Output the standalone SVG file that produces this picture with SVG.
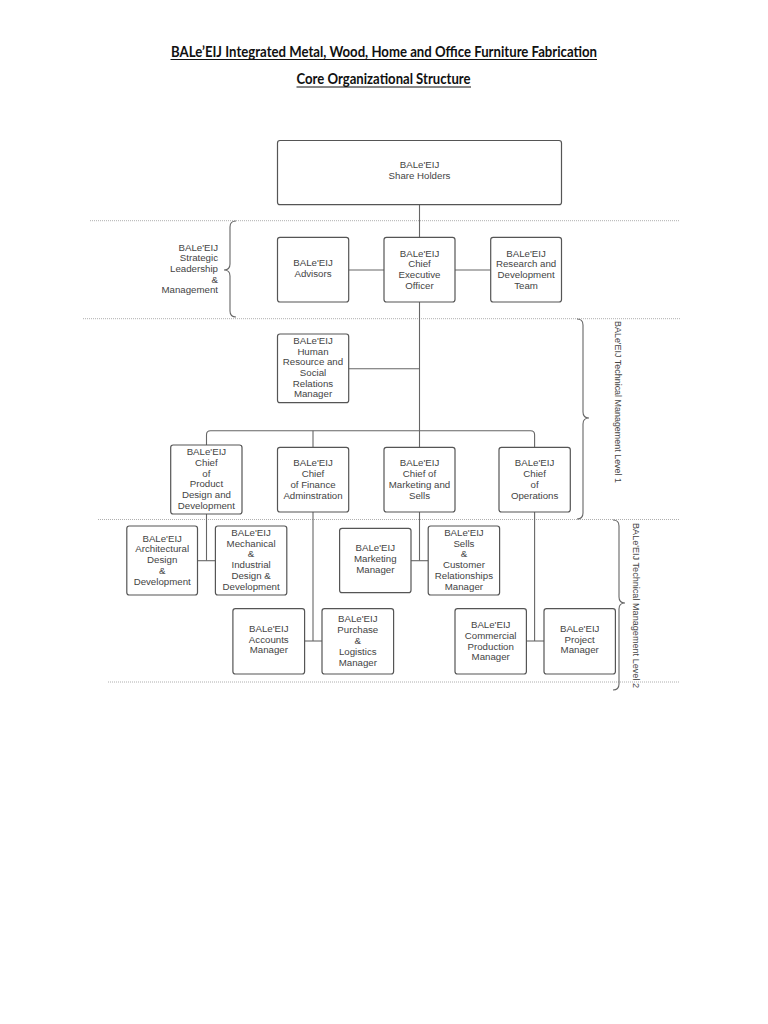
<svg xmlns="http://www.w3.org/2000/svg" width="768" height="1024" viewBox="0 0 768 1024">
<style>
.title{font-family:Lato,"Liberation Sans",Arial,sans-serif;font-weight:bold;font-size:14.5px;fill:#111}
.box{fill:#fff;stroke:#555;stroke-width:1.2}
.t{font-family:"Liberation Sans",Arial,sans-serif;font-size:9.7px;fill:#444;text-anchor:middle}
.lbl{font-family:"Liberation Sans",Arial,sans-serif;font-size:9.7px;fill:#444}
.dot{stroke:#9a9a9a;stroke-width:0.8;stroke-dasharray:1 1;fill:none}
.ln{stroke:#666;stroke-width:1.1;fill:none}
.br{stroke:#666;stroke-width:1.1;fill:none}
</style>
<rect width="768" height="1024" fill="#fff"/>
<g id="title">
<text class="title" x="384" y="56.5" text-anchor="middle" textLength="426" lengthAdjust="spacingAndGlyphs">BALe’EIJ Integrated Metal, Wood, Home and Office Furniture Fabrication</text>
<line x1="170.5" y1="59.5" x2="597" y2="59.5" stroke="#111" stroke-width="1"/>
<text class="title" x="383.5" y="83.5" text-anchor="middle" textLength="174" lengthAdjust="spacingAndGlyphs">Core Organizational Structure</text>
<line x1="296.5" y1="87" x2="471" y2="87" stroke="#111" stroke-width="1"/>
</g>
<g id="guides">
<line class="dot" x1="90" y1="220.7" x2="679" y2="220.7"/>
<line class="dot" x1="83" y1="318.7" x2="680" y2="318.7"/>
<line class="dot" x1="98" y1="519.5" x2="680" y2="519.5"/>
<line class="dot" x1="108" y1="682" x2="680" y2="682"/>
<path class="br" d="M236,221 Q230,221 230,227 L230,264 Q230,270 224,270 Q230,270 230,276 L230,311 Q230,317 236,317"/>
<path class="br" d="M577,319 Q583,319 583,325 L583,412 Q583,418 589,418 Q583,418 583,424 L583,513 Q583,519 577,519"/>
<path class="br" d="M613,520 Q619,520 619,526 L619,597 Q619,603 625,603 Q619,603 619,609 L619,684 Q619,690 613,690"/>
<text class="lbl" text-anchor="end"><tspan x="218" y="250.7">BALe'EIJ</tspan><tspan x="218" y="261.4">Strategic</tspan><tspan x="218" y="272">Leadership</tspan><tspan x="218" y="282.7">&amp;</tspan><tspan x="218" y="293.4">Management</tspan></text>
<text class="lbl" transform="translate(614.5,321) rotate(90)" textLength="162" lengthAdjust="spacingAndGlyphs">BALe'EIJ Technical Management Level 1</text>
<text class="lbl" transform="translate(633,523) rotate(90)" textLength="165" lengthAdjust="spacingAndGlyphs">BALe'EIJ Technical Management Level 2</text>
</g>
<g id="connectors">
<line class="ln" x1="419.5" y1="204.7" x2="419.5" y2="237.3"/>
<line class="ln" x1="348.7" y1="270" x2="384" y2="270"/>
<line class="ln" x1="455" y1="270" x2="490.7" y2="270"/>
<line class="ln" x1="419.5" y1="302" x2="419.5" y2="447.3"/>
<line class="ln" x1="348.7" y1="368.7" x2="419.5" y2="368.7"/>
<path class="ln" d="M206.5,445 L206.5,434.7 Q206.5,430.7 210.5,430.7 L530.6,430.7 Q534.6,430.7 534.6,434.7 L534.6,447.3"/>
<line class="ln" x1="313" y1="430.7" x2="313" y2="447.3"/>
<line class="ln" x1="206.5" y1="514" x2="206.5" y2="560.7"/>
<line class="ln" x1="197.5" y1="560.7" x2="215.4" y2="560.7"/>
<line class="ln" x1="419.5" y1="512" x2="419.5" y2="560.7"/>
<line class="ln" x1="411" y1="560.7" x2="428.2" y2="560.7"/>
<line class="ln" x1="313" y1="512" x2="313" y2="641"/>
<line class="ln" x1="304.6" y1="641" x2="322" y2="641"/>
<line class="ln" x1="534.6" y1="512" x2="534.6" y2="641"/>
<line class="ln" x1="526.4" y1="641" x2="544" y2="641"/>
</g>
<g id="shareholders">
<rect class="box" x="277.5" y="140.5" width="284" height="64.2" rx="2.5"/>
<text class="t"><tspan x="419.5" y="168.4">BALe'EIJ</tspan><tspan x="419.5" y="179.4">Share Holders</tspan></text>
</g>
<g id="advisors">
<rect class="box" x="277.5" y="237.3" width="71.2" height="64.7" rx="2.5"/>
<text class="t"><tspan x="313" y="266">BALe'EIJ</tspan><tspan x="313" y="276.7">Advisors</tspan></text>
</g>
<g id="ceo">
<rect class="box" x="384" y="237.3" width="71" height="64.7" rx="2.5"/>
<text class="t"><tspan x="419.5" y="256.7">BALe'EIJ</tspan><tspan x="419.5" y="267.4">Chief</tspan><tspan x="419.5" y="278.1">Executive</tspan><tspan x="419.5" y="288.7">Officer</tspan></text>
</g>
<g id="rnd">
<rect class="box" x="490.7" y="237.3" width="70.8" height="64.7" rx="2.5"/>
<text class="t"><tspan x="526.1" y="256.7">BALe'EIJ</tspan><tspan x="526.1" y="267.4">Research and</tspan><tspan x="526.1" y="278.1">Development</tspan><tspan x="526.1" y="288.7">Team</tspan></text>
</g>
<g id="hr">
<rect class="box" x="277.5" y="334" width="71.2" height="68.7" rx="2.5"/>
<text class="t"><tspan x="313" y="344">BALe'EIJ</tspan><tspan x="313" y="354.7">Human</tspan><tspan x="313" y="365.4">Resource and</tspan><tspan x="313" y="376">Social</tspan><tspan x="313" y="386.7">Relations</tspan><tspan x="313" y="397.4">Manager</tspan></text>
</g>
<g id="chief-product">
<rect class="box" x="170.7" y="445" width="71.3" height="69" rx="2.5"/>
<text class="t"><tspan x="206.4" y="455">BALe'EIJ</tspan><tspan x="206.4" y="465.7">Chief</tspan><tspan x="206.4" y="476.7">of</tspan><tspan x="206.4" y="487.4">Product</tspan><tspan x="206.4" y="498">Design and</tspan><tspan x="206.4" y="508.7">Development</tspan></text>
</g>
<g id="chief-finance">
<rect class="box" x="277.5" y="447.3" width="71.2" height="64.7" rx="2.5"/>
<text class="t"><tspan x="313" y="466.4">BALe'EIJ</tspan><tspan x="313" y="477.1">Chief</tspan><tspan x="313" y="488.1">of Finance</tspan><tspan x="313" y="498.7">Adminstration</tspan></text>
</g>
<g id="chief-marketing">
<rect class="box" x="384" y="447.3" width="71" height="64.7" rx="2.5"/>
<text class="t"><tspan x="419.5" y="466.4">BALe'EIJ</tspan><tspan x="419.5" y="477.1">Chief of</tspan><tspan x="419.5" y="488.1">Marketing and</tspan><tspan x="419.5" y="498.7">Sells</tspan></text>
</g>
<g id="chief-operations">
<rect class="box" x="499" y="447.3" width="71.3" height="64.7" rx="2.5"/>
<text class="t"><tspan x="534.6" y="466.4">BALe'EIJ</tspan><tspan x="534.6" y="477.1">Chief</tspan><tspan x="534.6" y="488.1">of</tspan><tspan x="534.6" y="498.7">Operations</tspan></text>
</g>
<g id="architectural">
<rect class="box" x="126.8" y="526" width="70.7" height="69" rx="2.5"/>
<text class="t"><tspan x="162.2" y="541.7">BALe'EIJ</tspan><tspan x="162.2" y="552.4">Architectural</tspan><tspan x="162.2" y="563.4">Design</tspan><tspan x="162.2" y="574.4">&amp;</tspan><tspan x="162.2" y="585.1">Development</tspan></text>
</g>
<g id="mechanical">
<rect class="box" x="215.4" y="526" width="71.4" height="69" rx="2.5"/>
<text class="t"><tspan x="251.1" y="536">BALe'EIJ</tspan><tspan x="251.1" y="546.7">Mechanical</tspan><tspan x="251.1" y="557.4">&amp;</tspan><tspan x="251.1" y="568">Industrial</tspan><tspan x="251.1" y="579">Design &amp;</tspan><tspan x="251.1" y="589.7">Development</tspan></text>
</g>
<g id="marketing-manager">
<rect class="box" x="339.6" y="528.3" width="71.4" height="64.4" rx="2.5"/>
<text class="t"><tspan x="375.3" y="551">BALe'EIJ</tspan><tspan x="375.3" y="561.7">Marketing</tspan><tspan x="375.3" y="572.7">Manager</tspan></text>
</g>
<g id="sells-manager">
<rect class="box" x="428.2" y="526" width="71.4" height="69" rx="2.5"/>
<text class="t"><tspan x="463.9" y="536">BALe'EIJ</tspan><tspan x="463.9" y="546.7">Sells</tspan><tspan x="463.9" y="557.4">&amp;</tspan><tspan x="463.9" y="568">Customer</tspan><tspan x="463.9" y="579">Relationships</tspan><tspan x="463.9" y="589.7">Manager</tspan></text>
</g>
<g id="accounts-manager">
<rect class="box" x="232.9" y="608.7" width="71.7" height="65.3" rx="2.5"/>
<text class="t"><tspan x="268.8" y="631.7">BALe'EIJ</tspan><tspan x="268.8" y="642.7">Accounts</tspan><tspan x="268.8" y="653.4">Manager</tspan></text>
</g>
<g id="purchase-manager">
<rect class="box" x="322" y="608.7" width="71.6" height="65.3" rx="2.5"/>
<text class="t"><tspan x="357.8" y="622.4">BALe'EIJ</tspan><tspan x="357.8" y="633">Purchase</tspan><tspan x="357.8" y="644">&amp;</tspan><tspan x="357.8" y="654.7">Logistics</tspan><tspan x="357.8" y="665.7">Manager</tspan></text>
</g>
<g id="commercial-manager">
<rect class="box" x="455" y="608.7" width="71.4" height="65.3" rx="2.5"/>
<text class="t"><tspan x="490.7" y="628">BALe'EIJ</tspan><tspan x="490.7" y="638.7">Commercial</tspan><tspan x="490.7" y="649.7">Production</tspan><tspan x="490.7" y="660.4">Manager</tspan></text>
</g>
<g id="project-manager">
<rect class="box" x="544" y="608.7" width="71.4" height="65.3" rx="2.5"/>
<text class="t"><tspan x="579.7" y="631.7">BALe'EIJ</tspan><tspan x="579.7" y="642.7">Project</tspan><tspan x="579.7" y="653.4">Manager</tspan></text>
</g>
</svg>
